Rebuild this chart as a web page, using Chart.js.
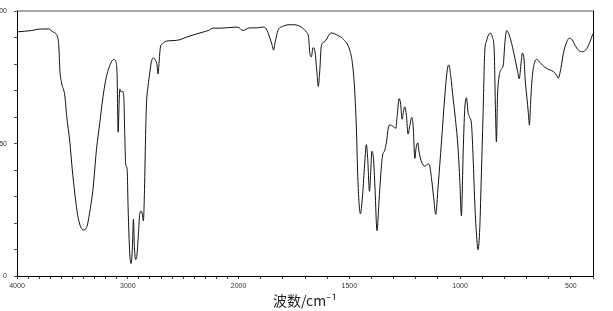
<!DOCTYPE html>
<html>
<head>
<meta charset="utf-8">
<script src="https://cdn.jsdelivr.net/npm/chart.js@4.4.1/dist/chart.umd.min.js"></script>
<style>
  html, body { margin: 0; padding: 0; background: #fff; }
  #wrap { width: 613px; height: 311px; position: relative; }
</style>
</head>
<body>
<div id="wrap"><canvas id="irChart"></canvas></div>
<script>
// spectrum (cm-1, %T)
const wavenumbers = [
  4000, 3868, 3808, 3718, 3673, 3633, 3622, 3613, 3597, 3568, 3552, 3523, 3502, 3477, 3448,
  3403, 3372, 3342, 3313, 3282, 3252, 3223, 3192, 3147, 3126, 3108, 3096, 3087, 3078, 3072,
  3057, 3048, 3036, 3027, 3018, 3006, 2997, 2982, 2970, 2958, 2949, 2940, 2928, 2916, 2904,
  2892, 2880, 2868, 2859, 2850, 2841, 2832, 2817, 2802, 2787, 2766, 2748, 2736, 2727, 2718,
  2705, 2687, 2651, 2592, 2532, 2471, 2381, 2306, 2268, 2232, 2156, 2021, 1995, 1981, 1950,
  1920, 1890, 1875, 1860, 1848, 1842, 1834, 1822, 1800, 1762, 1739, 1717, 1694, 1684, 1678,
  1671, 1664, 1656, 1647, 1640, 1634, 1626, 1614, 1581, 1551, 1529, 1498, 1486, 1476, 1468,
  1461, 1450, 1441, 1432, 1423, 1417, 1409, 1404, 1398, 1391, 1384, 1375, 1366, 1358, 1351,
  1340, 1332, 1325, 1317, 1303, 1290, 1284, 1275, 1268, 1262, 1256, 1250, 1242, 1235, 1227,
  1218, 1212, 1204, 1199, 1191, 1185, 1174, 1159, 1144, 1137, 1129, 1119, 1110, 1099, 1084,
  1069, 1057, 1051, 1042, 1031, 1021, 1009, 1001, 994, 986, 979, 971, 964, 956, 948,
  941, 934, 926, 919, 911, 904, 896, 889, 881, 869, 861, 854, 846, 840, 836,
  831, 825, 816, 805, 798, 790, 780, 767, 752, 740, 733, 724, 719, 711, 706,
  699, 692, 687, 681, 674, 665, 654, 639, 617, 594, 579, 564, 557, 545, 534,
  519, 507, 494, 481, 466, 447, 428, 413, 401
];
const transmittance = [
  92.2, 92.7, 93.2, 93.3, 92.1, 90.2, 86.6, 77.8, 72.9, 68, 60.6, 50.6, 40.6, 30.8, 22,
  17.4, 18.3, 24.5, 33.2, 48, 58, 67.9, 75.4, 80.9, 81.8, 81, 75.4, 54.3, 65.4, 70.6,
  69.4, 69.8, 67.9, 53, 41.9, 40.6, 25.8, 8.4, 4.7, 10.9, 21.4, 10.9, 6.2, 8.4, 15.9,
  23.3, 24.5, 23.3, 20.8, 30.7, 49.3, 64.2, 71.6, 76.6, 80.9, 82.4, 81.3, 79.7, 76.3, 80.3,
  86.5, 87.7, 88.7, 88.9, 89.2, 90.2, 91.4, 92.3, 92.8, 93.6, 93.6, 94, 93.6, 92.7, 93.7,
  93.7, 94, 93.3, 90.2, 87.1, 85.3, 88.6, 92.7, 94.3, 94.9, 94.8, 94, 92.1, 90.2, 84,
  82.8, 86.2, 85.3, 77.8, 71.6, 76.6, 87.1, 88.3, 91.8, 90.8, 89.6, 85.3, 80.3, 70.4, 55.5,
  35.7, 23.5, 29.5, 40.6, 49.6, 44.4, 32, 38.2, 47.1, 44.4, 33.2, 17.1, 28.3, 38.2, 45,
  47.5, 50.6, 55.5, 57.1, 56.5, 55.8, 60.5, 67, 64.8, 59.2, 61.7, 63.9, 60.5, 53.6, 56.8,
  59.9, 56.8, 44.4, 48.1, 50.3, 46.8, 43.1, 41.5, 42.3, 41.6, 36.9, 29.5, 23.3, 34, 50.6,
  67.9, 78.4, 79.7, 75.4, 66.7, 59.2, 48.1, 35.7, 22.7, 46.8, 62.9, 67.3, 61.7, 59.9, 56.8,
  44.4, 28.3, 15.9, 9.9, 18.3, 38.2, 61.7, 84, 88.6, 91.4, 91.7, 90.2, 85.3, 61.7, 50.6,
  67.9, 74.7, 77.8, 79.7, 87.7, 92.7, 91.4, 87.7, 82, 77.2, 74.5, 81, 84.2, 81.5, 74,
  67.9, 61.7, 57, 66.7, 75.4, 80.3, 81.8, 80.6, 78.8, 77.8, 77.2, 75.8, 74.7, 78.4, 84,
  88.3, 89.8, 89.2, 87.1, 85.3, 84.7, 85.9, 88.6, 91.4
];

const xLabelValues = [4000, 3000, 2000, 1500, 1000, 500];
const yLabelValues = [0, 50, 100];
const xAxisTitle = "波数/cm⁻¹";

// the wavenumber axis is squeezed 2:1 above 2000 cm-1
function toAxis(w) {
  return w >= 2000 ? (4000 - w) / 2 : 1000 + (2000 - w);
}
function fromAxis(u) {
  return u <= 1000 ? 4000 - u * 2 : 2000 - (u - 1000);
}

const points = wavenumbers.map((w, i) => ({ x: toAxis(w), y: transmittance[i] }));

// minor ticks every 100 cm-1
const xTickValues = [];
for (let w = 4000; w >= 400; w -= 100) xTickValues.push(toAxis(w));

const tickFont = { family: "Liberation Sans", size: 7 };

new Chart(document.getElementById("irChart"), {
  type: "line",
  data: {
    datasets: [
      {
        data: points,
        borderColor: "#111",
        borderWidth: 1,
        pointRadius: 0,
        fill: false,
        cubicInterpolationMode: "monotone",
      },
    ],
  },
  options: {
    responsive: true,
    maintainAspectRatio: false,
    animation: false,
    devicePixelRatio: 1,
    layout: { padding: { left: 0, top: 7, right: 20, bottom: 0 } },
    plugins: { legend: { display: false }, tooltip: { enabled: false } },
    scales: {
      x: {
        type: "linear",
        position: "bottom",
        min: 0,
        max: 2600,
        afterBuildTicks: (scale) => {
          scale.ticks = xTickValues.map((v) => ({ value: v }));
        },
        afterFit: (scale) => {
          scale.height = 35;
        },
        grid: { display: true, drawOnChartArea: false, tickLength: 3, color: "#444" },
        border: { display: true, color: "#000", width: 1 },
        ticks: {
          autoSkip: false,
          maxRotation: 0,
          padding: 3,
          color: "#333",
          font: tickFont,
          callback: (value) => {
            const w = Math.round(fromAxis(value));
            return xLabelValues.includes(w) ? String(w) : "";
          },
        },
        title: {
          display: true,
          text: xAxisTitle,
          color: "#222",
          font: { family: "Noto Sans CJK SC", size: 14 },
          padding: { top: 0, bottom: 2 },
        },
      },
      xTop: {
        type: "linear",
        position: "top",
        min: 0,
        max: 1,
        afterFit: (scale) => {
          scale.height = 0;
        },
        grid: { display: false },
        ticks: { display: false },
        border: { display: true, color: "#a8a8a8", width: 2 },
      },
      y: {
        type: "linear",
        position: "left",
        min: 0,
        max: 100,
        afterFit: (scale) => {
          scale.width = 17;
        },
        grid: { display: true, drawOnChartArea: false, tickLength: 3, color: "#444" },
        border: { display: true, color: "#000", width: 1 },
        ticks: {
          stepSize: 10,
          autoSkip: false,
          padding: 7,
          color: "#333",
          font: tickFont,
          callback: (value) => (yLabelValues.includes(value) ? String(value) : ""),
        },
      },
      yRight: {
        type: "linear",
        position: "right",
        min: 0,
        max: 1,
        afterFit: (scale) => {
          scale.width = 0;
        },
        grid: { display: false },
        ticks: { display: false },
        border: { display: true, color: "#000", width: 1 },
      },
    },
  },
});
</script>
</body>
</html>
